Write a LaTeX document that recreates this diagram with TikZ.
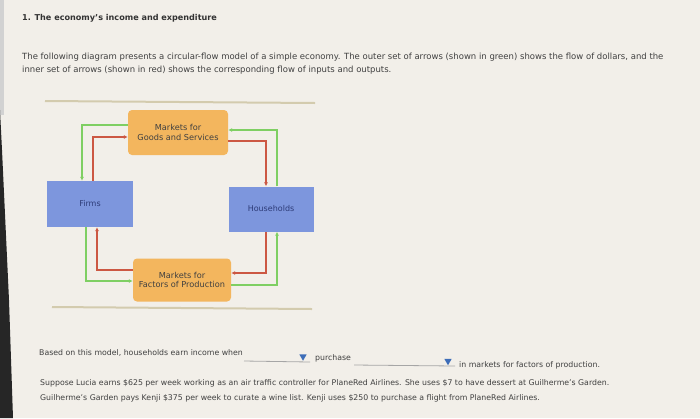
\documentclass[tikz,border=0pt]{standalone}
\usepackage{fontspec}
\setmainfont{DejaVu Sans}
\usetikzlibrary{calc,arrows.meta,shapes.geometric}
\definecolor{bg}{HTML}{F2EFE9}
\definecolor{txt}{HTML}{404040}
\definecolor{orangebox}{HTML}{F3B65E}
\definecolor{bluebox}{HTML}{7D96DD}
\definecolor{navy}{HTML}{2E3C78}
\definecolor{gline}{HTML}{7FCF63}
\definecolor{rline}{HTML}{CC5843}
\definecolor{rulec}{HTML}{D3CBAE}
\definecolor{ddblue}{HTML}{3D6DB8}
\tikzset{
  mkt/.style={draw=none, fill=orangebox, rounded corners=4pt, text=txt, align=center, inner sep=0pt, font=\fontsize{8.2}{9.5}\selectfont},
  agent/.style={draw=none, fill=bluebox, text=navy, align=center, inner sep=0pt, font=\fontsize{8}{9.5}\selectfont},
  garrow/.style={draw=gline, line width=1.4pt, -{Latex[length=4pt,width=4pt]}},
  rarrow/.style={draw=rline, line width=1.4pt, -{Latex[length=4pt,width=4pt]}},
  para/.style={anchor=west, inner sep=0pt, text=txt, font=\fontsize{8.5}{10}\selectfont},
  lowpara/.style={anchor=west, inner sep=0pt, text=txt, font=\fontsize{7.8}{9}\selectfont},
  rulebar/.style={draw=rulec, line width=2pt},
  blank/.style={draw=gray!70, line width=0.8pt},
  ddtri/.style={shape=regular polygon, regular polygon sides=3, fill=ddblue, draw=none, minimum size=8.5pt, inner sep=0pt, shape border rotate=180}
}
\begin{document}
\begin{tikzpicture}[x=1pt,y=-1pt]
\useasboundingbox (0,0) rectangle (700,418);
\fill[bg] (0,0) rectangle (700,418);
\fill[gray!35] (0,0) rectangle (4,115);
\fill[black!85] (0,110) -- (2,150) -- (9,300) -- (13,418) -- (0,418) -- cycle;

% title and intro
\node[para, font=\bfseries\fontsize{8.1}{10}\selectfont, text=black!80] (title) at (22,18) {1. The economy's income and expenditure};
\node[para] (p1) at (22,57) {The following diagram presents a circular-flow model of a simple economy. The outer set of arrows (shown in green) shows the flow of dollars, and the};
\node[para] (p2) at (22,70) {inner set of arrows (shown in red) shows the corresponding flow of inputs and outputs.};

% rules
\draw[rulebar] (45,101) -- (315,103);
\draw[rulebar] (52,307) -- (312,309);

% boxes
\node[mkt, minimum width=100pt, minimum height=45pt] (goods) at (178,132.5) {Markets for\\Goods and Services};
\node[mkt, minimum width=98pt, minimum height=43pt] (factors) at (182,280) {Markets for\\Factors of Production};
\node[agent, minimum width=86pt, minimum height=46pt] (firms) at (90,204) {Firms};
\node[agent, minimum width=85pt, minimum height=45pt] (households) at (271,209) {Households};

% green (dollars)
\draw[garrow] ($(goods.west)+(0,-7.5)$) -| ($(firms.north)+(-8,0)$);
\draw[garrow] ($(households.north)+(6,0)$) |- ($(goods.east)+(0,-2.5)$);
\draw[garrow] ($(factors.east)+(0,5)$) -| ($(households.south)+(6,0)$);
\draw[garrow] ($(firms.south)+(-4,0)$) |- ($(factors.west)+(0,1)$);
% red (inputs/outputs)
\draw[rarrow] ($(firms.north)+(3,0)$) |- ($(goods.west)+(0,4.5)$);
\draw[rarrow] ($(goods.east)+(0,8.5)$) -| ($(households.north)+(-5,0)$);
\draw[rarrow] ($(households.south)+(-5,0)$) |- ($(factors.east)+(0,-7)$);
\draw[rarrow] ($(factors.west)+(0,-10)$) -| ($(firms.south)+(7,0)$);

% question
\node[lowpara] (q1) at (39,353) {Based on this model, households earn income when};
\draw[blank] (244,361) -- (310,362);
\node[ddtri] (dd1) at (303,356.5) {};
\node[lowpara] (q2) at (315,358) {purchase};
\draw[blank] (354,365) -- (455,366);
\node[ddtri] (dd2) at (448,361) {};
\node[lowpara] (q3) at (459,365) {in markets for factors of production.};

\node[lowpara] (s1) at (40,383) {Suppose Lucia earns \$625 per week working as an air traffic controller for PlaneRed Airlines. She uses \$7 to have dessert at Guilherme's Garden.};
\node[lowpara] (s2) at (40,398) {Guilherme's Garden pays Kenji \$375 per week to curate a wine list. Kenji uses \$250 to purchase a flight from PlaneRed Airlines.};
\end{tikzpicture}
\end{document}
